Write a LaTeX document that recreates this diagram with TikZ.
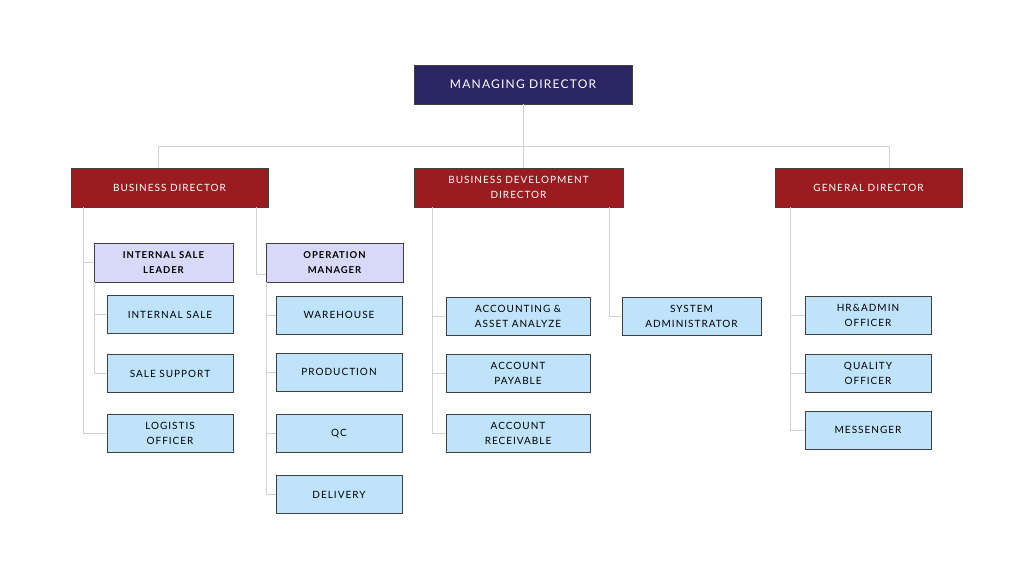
\documentclass[tikz,border=0pt]{standalone}
\usepackage{fontspec}
\setmainfont[LetterSpace=10]{Lato}
\definecolor{navy}{HTML}{2A2563}
\definecolor{darkred}{HTML}{9B1C20}
\definecolor{lavender}{HTML}{D8D8F8}
\definecolor{skyblue}{HTML}{BFE3FB}
\tikzset{
  box/.style = {draw=black!75, line width=0.8pt, align=center, inner sep=0pt,
                font=\fontsize{10}{15}\selectfont},
  top/.style = {box, fill=navy, text=white, minimum width=218pt, minimum height=39pt,
                font=\fontsize{12}{15}\selectfont},
  head/.style = {box, fill=darkred, text=white, minimum height=39pt},
  lead/.style = {box, fill=lavender, minimum height=39pt, font=\bfseries\fontsize{9.5}{15}\selectfont},
  staff/.style = {box, fill=skyblue, minimum width=126pt, minimum height=38pt},
  link/.style = {draw=black!18, line width=0.8pt}
}
\begin{document}
\begin{tikzpicture}[x=1pt, y=-1pt]
\useasboundingbox (0,0) rectangle (1024,576);
% connectors go first
\coordinate (bar) at (523,146);
\node[top] (md) at (523,84.5) {MANAGING DIRECTOR};
\node[head, minimum width=197pt] (bd) at (169.5,187.5) {BUSINESS DIRECTOR};
\node[head, minimum width=209pt] (bdd) at (518.5,187.5) {BUSINESS DEVELOPMENT\\DIRECTOR};
\node[head, minimum width=187pt] (gd) at (868.5,187.5) {GENERAL DIRECTOR};

\node[lead, minimum width=139pt] (isl) at (163.5,262.5) {INTERNAL SALE\\LEADER};
\node[lead, minimum width=137pt] (om) at (334.5,262.5) {OPERATION\\MANAGER};

\node[staff] (is)  at (170,314.5) {INTERNAL SALE};
\node[staff] (ss)  at (170,373.5) {SALE SUPPORT};
\node[staff] (lo)  at (170,433)   {LOGISTIS\\OFFICER};
\node[staff] (wh)  at (339,315)   {WAREHOUSE};
\node[staff] (pr)  at (339,372)   {PRODUCTION};
\node[staff] (qc)  at (339,433.5) {QC};
\node[staff] (de)  at (339,494.5) {DELIVERY};
\node[staff, minimum width=144pt] (acc) at (518,316) {ACCOUNTING \&\\ASSET ANALYZE};
\node[staff, minimum width=144pt] (ap)  at (518,373) {ACCOUNT\\PAYABLE};
\node[staff, minimum width=144pt] (ar)  at (518,433) {ACCOUNT\\RECEIVABLE};
\node[staff, minimum width=139pt] (sa)  at (691.5,316) {SYSTEM\\ADMINISTRATOR};
\node[staff] (hr)  at (868,315) {HR\&ADMIN\\OFFICER};
\node[staff] (qo)  at (868,373) {QUALITY\\OFFICER};
\node[staff] (me)  at (868,430) {MESSENGER};

\begin{scope}[on background layer/.style={}]
\path[link] (md.south) -- (bar);
\path[link] (bar) -| ([xshift=-11pt]bd.north);
\path[link] (bar) -| ([xshift=4.5pt]bdd.north);
\path[link] (bar) -| ([xshift=20.5pt]gd.north);
% business director
\foreach \n in {isl,lo}
  \path[link] ([xshift=13pt]bd.south west) |- (\n.west);
\path[link] ([xshift=-12pt]bd.south east) |- ([yshift=-11.5pt]om.west);
\foreach \n in {is,ss}
  \path[link] ([xshift=1pt]isl.south west) |- (\n.west);
\foreach \n in {wh,pr,qc,de}
  \path[link] ([xshift=0.5pt]om.south west) |- (\n.west);
% business development director
\foreach \n in {acc,ap,ar}
  \path[link] ([xshift=19pt]bdd.south west) |- (\n.west);
\path[link] ([xshift=-14pt]bdd.south east) |- (sa.west);
% general director
\foreach \n in {hr,qo,me}
  \path[link] ([xshift=16pt]gd.south west) |- (\n.west);
\end{scope}
\end{tikzpicture}
\end{document}
